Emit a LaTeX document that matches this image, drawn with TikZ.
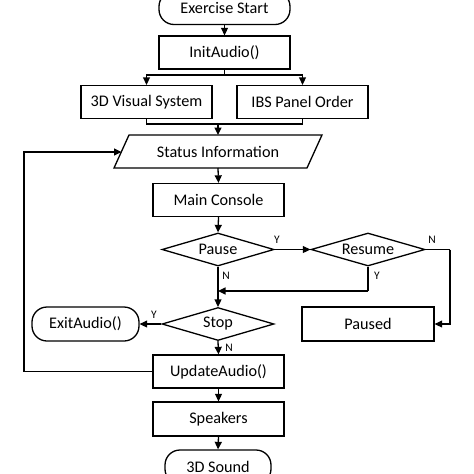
\documentclass[tikz,border=0pt]{standalone}
\usepackage{fontspec}
\setmainfont{Carlito}
\usetikzlibrary{shapes.geometric,arrows.meta}
\begin{document}
\begin{tikzpicture}[x=1pt,y=-1pt,
  line width=1.3pt,
  box/.style={draw,rectangle,inner sep=0pt,minimum width=131pt,minimum height=33pt,font=\fontsize{16.2}{19}\selectfont},
  pill/.style={draw,rectangle,rounded corners=15pt,inner sep=0pt,minimum height=33pt,font=\fontsize{16.2}{19}\selectfont},
  dia/.style={draw,diamond,aspect=3.4,inner sep=0pt,minimum width=112pt,minimum height=33pt,font=\fontsize{16.2}{19}\selectfont},
  plain/.style={inner sep=0pt,font=\fontsize{16.2}{19}\selectfont},
  lbl/.style={inner sep=0pt,font=\fontsize{11.5}{13}\selectfont},
  arr/.style={-{Triangle[length=7.5pt,width=7pt]}}]
\clip (0,0) rectangle (474,474);
\fill[white] (0,0) rectangle (474,474);
% nodes
\node[pill,minimum width=131pt] (start) at (224.5,8) {Exercise Start};
\node[box] (init) at (224.5,52.5) {InitAudio()};
\node[box] (v3d) at (146.5,102) {3D Visual System};
\node[box] (ibs) at (302.5,102) {IBS Panel Order};
\node[plain] (status) at (218,152) {Status Information};
\draw (129,135) -- (322,135) -- (307,168) -- (114,168) -- cycle;
\coordinate (stT) at (218,135);
\coordinate (stB) at (218,168);
\coordinate (stL) at (121.5,152);
\node[box] (main) at (218.5,200) {Main Console};
\node[dia] (pause) at (218,249.5) {Pause};
\node[dia,minimum width=114pt] (resume) at (368,249.5) {Resume};
\node[dia] (stop) at (218,324) {Stop};
\node[pill,minimum width=107pt,minimum height=34pt] (exit) at (85.5,324) {ExitAudio()};
\node[box,minimum width=132pt,minimum height=34pt] (paused) at (368,324) {Paused};
\node[box] (update) at (218.5,371.5) {UpdateAudio()};
\node[box,minimum height=34pt] (speak) at (218.5,419) {Speakers};
\node[pill,minimum width=106pt,minimum height=34pt] (sound) at (218,467) {3D Sound};
\coordinate (j1) at (224.5,75);
\coordinate (j2) at (218,124);
\coordinate (j3) at (218,291);
\coordinate (rN) at (450,249.5);
\coordinate (rY) at (368,291);
\coordinate (fb) at (24,371.5);
% connectors
\draw[arr] (start.south) -- (init.north);
\draw (init.south) -- (j1);
\draw[arr] (j1) -| (v3d.north);
\draw[arr] (j1) -| (ibs.north);
\draw (v3d.south) |- (j2);
\draw (ibs.south) |- (j2);
\draw[arr] (j2) -- (stT);
\draw[arr] (stB) -- (main.north);
\draw[arr] (main.south) -- (pause.north);
\draw[arr] (pause.east) -- (resume.west);
\draw (resume.east) -- (rN);
\draw[arr] (rN) |- (paused.east);
\draw (resume.south) -- (rY);
\draw[arr] (rY) -- (j3);
\draw[arr] (pause.south) -- (stop.north);
\draw[arr] (stop.west) -- (exit.east);
\draw[arr] (stop.south) -- (update.north);
\draw (update.west) -- (fb);
\draw[arr] (fb) |- (stL);
\draw[arr] (update.south) -- (speak.north);
\draw[arr] (speak.south) -- (sound.north);
% labels
\node[lbl] (l1) at (277,240) {Y};
\node[lbl] (l2) at (432,240) {N};
\node[lbl] (l3) at (377,276) {Y};
\node[lbl] (l4) at (226,276) {N};
\node[lbl] (l5) at (154,315) {Y};
\node[lbl] (l6) at (229,348) {N};
\end{tikzpicture}
\end{document}
